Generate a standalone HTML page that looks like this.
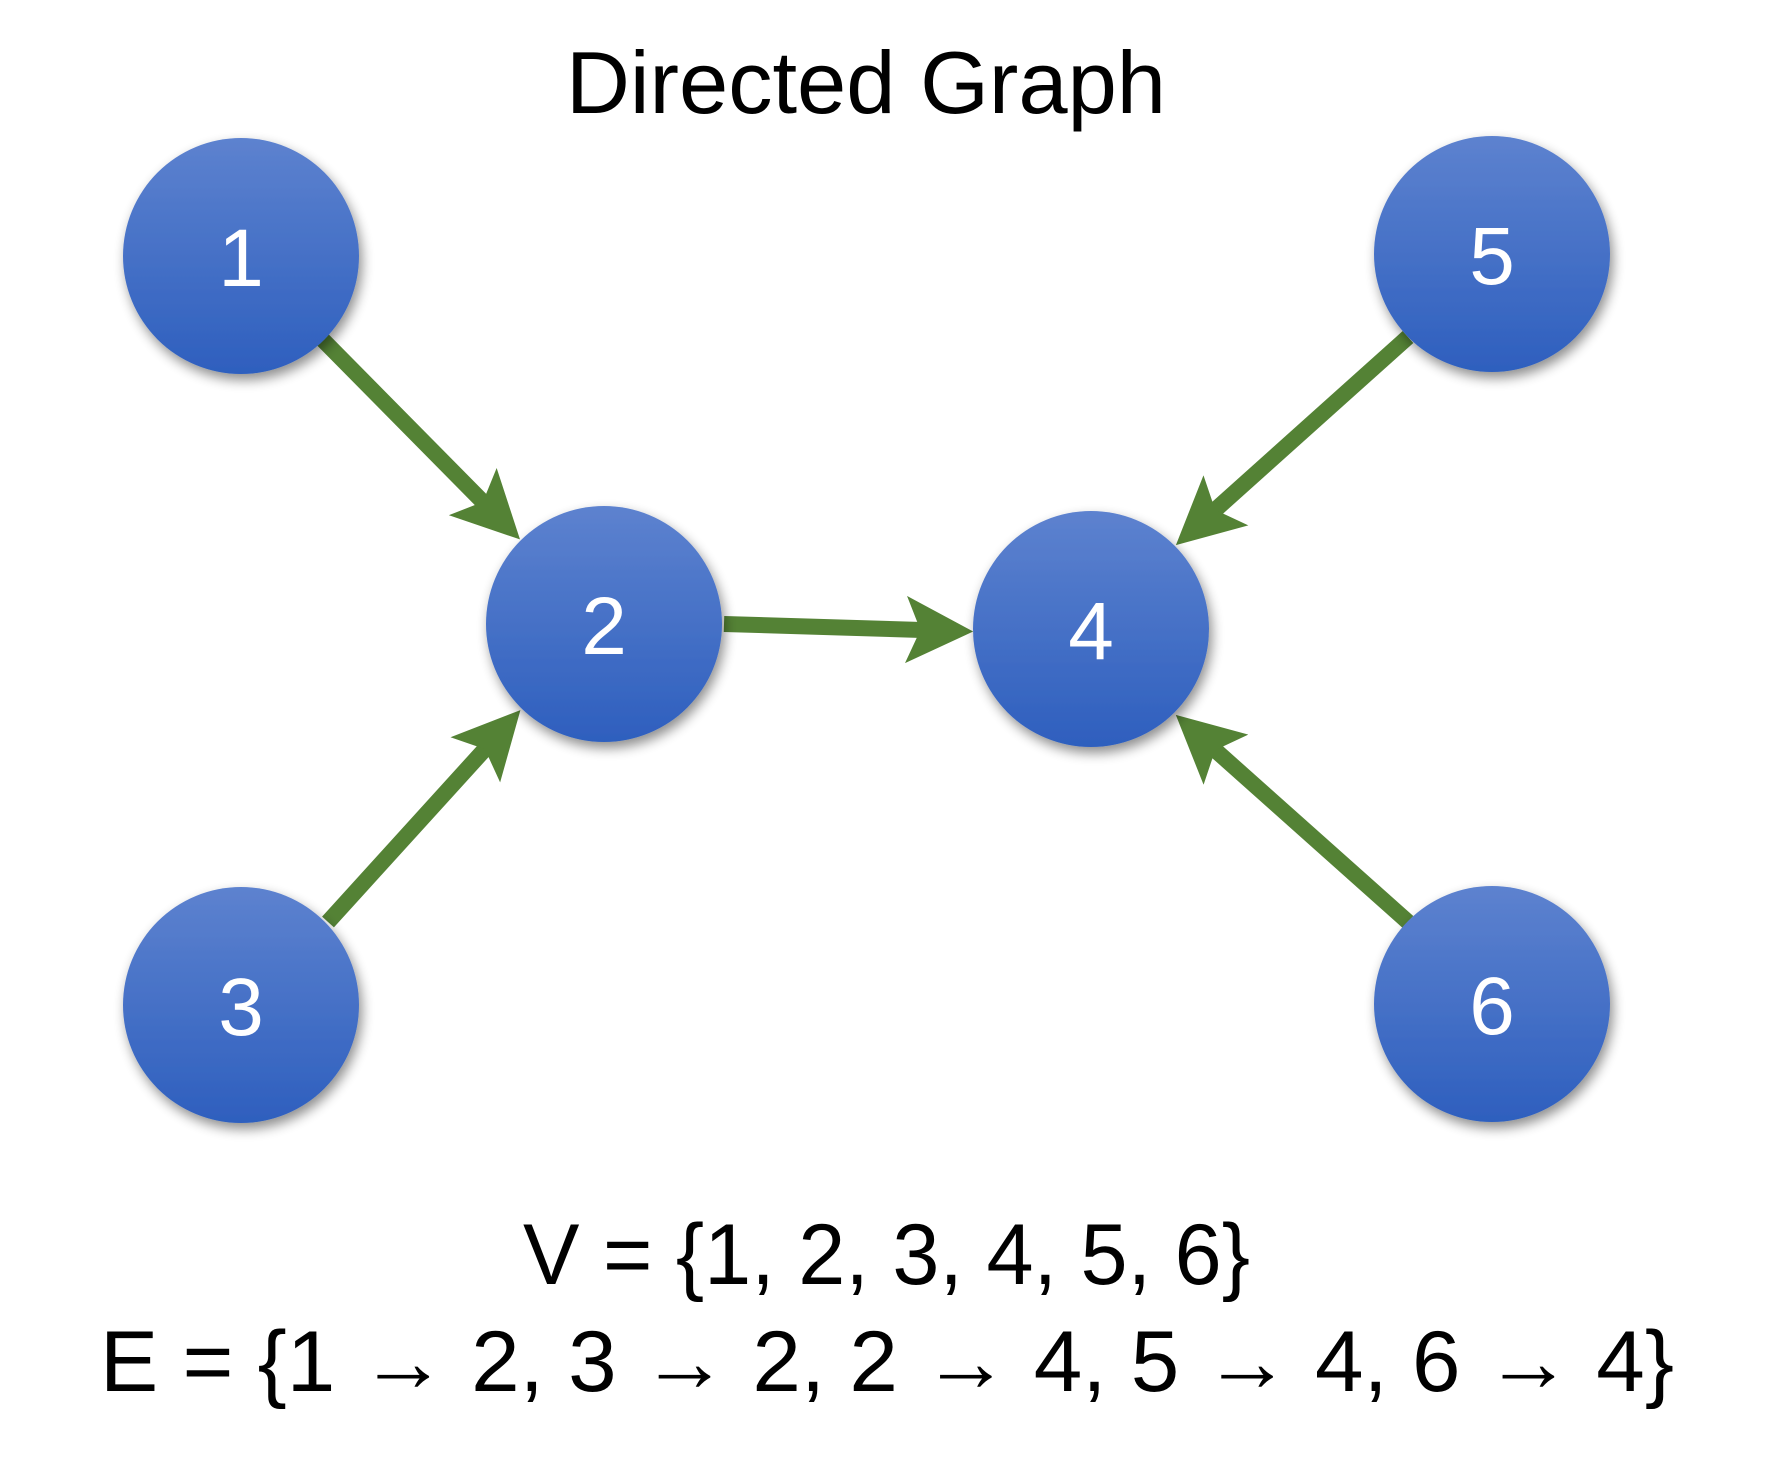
<!DOCTYPE html>
<html><head><meta charset="utf-8"><style>
html,body{margin:0;padding:0;background:#fff;}
svg{display:block;}
</style></head><body>
<svg width="1765" height="1464" viewBox="0 0 1765 1464" xmlns="http://www.w3.org/2000/svg">
<defs>
<linearGradient id="g" x1="0" y1="0" x2="0" y2="1">
<stop offset="0" stop-color="#5d82cf"/>
<stop offset="1" stop-color="#2e5fbe"/>
</linearGradient>
<filter id="sh" x="-30%" y="-30%" width="160%" height="160%">
<feGaussianBlur in="SourceAlpha" stdDeviation="6"/>
<feOffset dx="3" dy="6"/>
<feComponentTransfer><feFuncA type="linear" slope="0.45"/></feComponentTransfer>
<feMerge><feMergeNode/><feMergeNode in="SourceGraphic"/></feMerge>
</filter>
<marker id="ah" markerWidth="4.2" markerHeight="4.2" refX="1" refY="2.1" orient="auto" markerUnits="strokeWidth">
<path d="M0,0 L4.2,2.1 L0,4.2 L0.9,2.1 Z" fill="#548235"/>
</marker>
</defs>
<text x="866" y="113" font-family="Liberation Sans, sans-serif" font-size="88" text-anchor="middle" textLength="600" lengthAdjust="spacingAndGlyphs" fill="#000">Directed Graph</text>
<g stroke="#548235" stroke-width="16" marker-end="url(#ah)" fill="none">
<line x1="322" y1="339" x2="484" y2="503"/>
<line x1="328" y1="922" x2="486" y2="748"/>
<line x1="724" y1="624" x2="922" y2="630"/>
<line x1="1408" y1="337" x2="1214" y2="511"/>
<line x1="1408" y1="922" x2="1214" y2="749"/>
</g>
<g filter="url(#sh)" fill="url(#g)">
<circle cx="241" cy="256" r="118"/>
<circle cx="604" cy="624" r="118"/>
<circle cx="1091" cy="629" r="118"/>
<circle cx="1492" cy="254" r="118"/>
<circle cx="241" cy="1005" r="118"/>
<circle cx="1492" cy="1004" r="118"/>
</g>
<g font-family="Liberation Sans, sans-serif" font-size="82" fill="#fff" text-anchor="middle">
<text x="241" y="286">1</text>
<text x="604" y="654">2</text>
<text x="1091" y="659">4</text>
<text x="1492" y="284">5</text>
<text x="241" y="1035">3</text>
<text x="1492" y="1034">6</text>
</g>
<g font-family="Liberation Sans, sans-serif" font-size="86" fill="#000">
<text x="523" y="1284" textLength="727" lengthAdjust="spacingAndGlyphs">V = {1, 2, 3, 4, 5, 6}</text>
<text x="100" y="1391" textLength="1574" lengthAdjust="spacingAndGlyphs">E = {1 → 2, 3 → 2, 2 → 4, 5 → 4, 6 → 4}</text>
</g>
</svg>
</body></html>
